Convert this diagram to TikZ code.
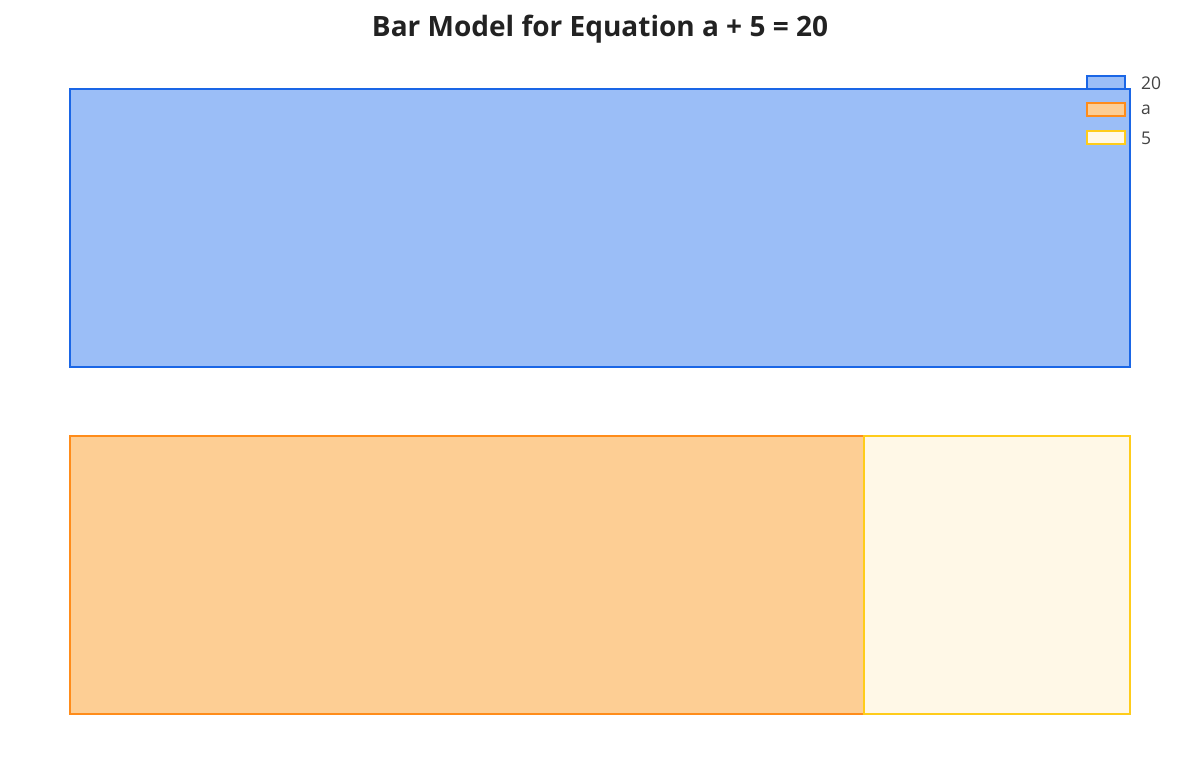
\documentclass[tikz,border=0pt]{standalone}
\usepackage{fontspec}
\setmainfont{Open Sans}
\definecolor{bluefill}{HTML}{9BBEF7}
\definecolor{bluedraw}{HTML}{1A66E6}
\definecolor{orfill}{HTML}{FDCE94}
\definecolor{ordraw}{HTML}{FF8C1A}
\definecolor{yefill}{HTML}{FFF8E7}
\definecolor{yedraw}{HTML}{FFCC1A}
\definecolor{txt}{HTML}{222222}
\begin{document}
\begin{tikzpicture}[x=1pt,y=-1pt,
  bar/.style={line width=2pt},
  leg/.style={line width=2pt},
  legtxt/.style={anchor=west,inner sep=0pt,font=\fontsize{17.5}{17.5}\selectfont,text=txt!85}]
\useasboundingbox[fill=white] (0,0) rectangle (1200,763);
\node[font=\bfseries\fontsize{28}{28}\selectfont,text=txt] (title) at (600,29) {Bar Model for Equation a + 5 = 20};
\draw[leg,fill=bluefill,draw=bluedraw] (1087,76) rectangle (1125,89);
\draw[bar,fill=bluefill,draw=bluedraw] (70,89) rectangle (1130,367);
\draw[bar,fill=orfill,draw=ordraw] (70,436) rectangle (864,714);
\draw[bar,fill=yefill,draw=yedraw] (864,436) rectangle (1130,714);
\draw[leg,fill=orfill,draw=ordraw] (1087,103) rectangle (1125,116);
\draw[leg,fill=yefill,draw=yedraw] (1087,131) rectangle (1125,144);
\node[legtxt] (l1) at (1141,83) {20};
\node[legtxt] (l2) at (1141,110) {a};
\node[legtxt] (l3) at (1141,138) {5};
\end{tikzpicture}
\end{document}
